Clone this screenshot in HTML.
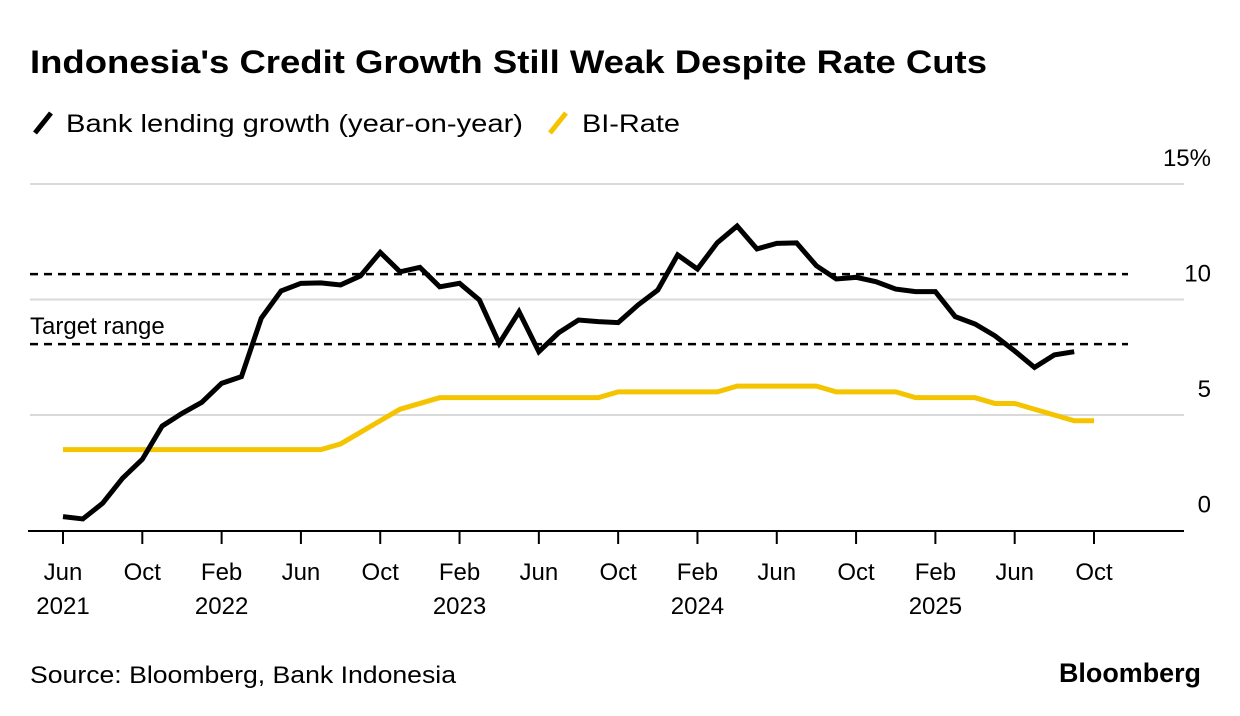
<!DOCTYPE html>
<html><head><meta charset="utf-8"><style>
html,body{margin:0;padding:0;background:#fff}
svg{display:block;font-family:"Liberation Sans",sans-serif}
</style></head><body>
<svg id="c" width="1240" height="716" viewBox="0 0 1240 716">
<text x="30" y="73" font-size="32" font-weight="bold" textLength="957" lengthAdjust="spacingAndGlyphs">Indonesia's Credit Growth Still Weak Despite Rate Cuts</text>
<g>
<line x1="35" y1="133" x2="51" y2="113" stroke="#000" stroke-width="5"/>
<text x="66" y="132" font-size="25" textLength="457" lengthAdjust="spacingAndGlyphs">Bank lending growth (year-on-year)</text>
<line x1="550" y1="133" x2="566" y2="113" stroke="#f5c400" stroke-width="5"/>
<text x="582" y="132" font-size="25" textLength="98" lengthAdjust="spacingAndGlyphs">BI-Rate</text>
</g>
<g id="grid"></g><g id="ylab"></g><g id="xax"></g><g id="series"></g>
<text x="30" y="334" font-size="24">Target range</text>
<text x="30" y="683" font-size="24" textLength="426" lengthAdjust="spacingAndGlyphs">Source: Bloomberg, Bank Indonesia</text>
<text x="1201" y="682" font-size="27" font-weight="bold" text-anchor="end" textLength="142" lengthAdjust="spacingAndGlyphs">Bloomberg</text>
</svg>
<script>
const lending = [0.6,0.5,1.18,2.26,3.08,4.52,5.07,5.55,6.37,6.66,9.19,10.37,10.7,10.72,10.63,11.02,12.04,11.2,11.39,10.55,10.7,9.98,8.1,9.47,7.74,8.56,9.11,9.04,9.0,9.76,10.41,11.93,11.32,12.46,13.18,12.19,12.43,12.45,11.46,10.89,10.96,10.77,10.45,10.34,10.34,9.26,8.94,8.43,7.77,7.06,7.6,7.74];
const biRate = [3.5,3.5,3.5,3.5,3.5,3.5,3.5,3.5,3.5,3.5,3.5,3.5,3.5,3.5,3.75,4.25,4.75,5.25,5.5,5.75,5.75,5.75,5.75,5.75,5.75,5.75,5.75,5.75,6,6,6,6,6,6,6.25,6.25,6.25,6.25,6.25,6,6,6,6,5.75,5.75,5.75,5.75,5.5,5.5,5.25,5,4.75,4.75];
const yTicks = [0,5,10,15];
const yTickLabels = ["0","5","10","15%"];
const targetRange = [8.07,11.1];
const xTickMonths = [0,4,8,12,16,20,24,28,32,36,40,44,48,52];
const xMonthLabels = ["Jun","Oct","Feb","Jun","Oct","Feb","Jun","Oct","Feb","Jun","Oct","Feb","Jun","Oct"];
const xYearLabels = ["2021","","2022","","","2023","","","2024","","","2025","",""];
const NS="http://www.w3.org/2000/svg";
const X=m=>63+m*(1094-63)/52;
const Y=v=>530.5-v*23.1;
function mk(tag,attrs,parent){const e=document.createElementNS(NS,tag);for(const k in attrs)e.setAttribute(k,attrs[k]);parent.appendChild(e);return e;}
const grid=document.getElementById('grid'),ylab=document.getElementById('ylab'),xax=document.getElementById('xax'),ser=document.getElementById('series');
yTicks.forEach((v,i)=>{
  if(v>0){const g=mk('line',{x1:30,x2:1184,y1:Y(v),y2:Y(v),stroke:'#d9d9d9','stroke-width':2},grid);
  
  }
  const t=mk('text',{x:1211,y:Y(v)-18,'font-size':24,'text-anchor':'end'},ylab);t.textContent=yTickLabels[i];
  
  
});
targetRange.forEach((v,i)=>{
  const d=mk('line',{x1:30,x2:1128,y1:Y(v),y2:Y(v),stroke:'#000','stroke-width':2.5,'stroke-dasharray':'8 6'},grid);
  
  
});
const ax=mk('line',{x1:28,x2:1184,y1:531,y2:531,stroke:'#000','stroke-width':2},xax);


xTickMonths.forEach((m,i)=>{
  const t=mk('line',{x1:X(m),x2:X(m),y1:531,y2:544,stroke:'#000','stroke-width':2},xax);
  
  
  const l=mk('text',{x:X(m),y:580,'font-size':24,'text-anchor':'middle'},xax);l.textContent=xMonthLabels[i];
  
  
  if(xYearLabels[i]){const yl=mk('text',{x:X(m),y:614,'font-size':24,'text-anchor':'middle'},xax);yl.textContent=xYearLabels[i];
  
  }
});
function line(arr,color,name){
  const p=mk('polyline',{points:arr.map((v,i)=>X(i)+','+Y(v)).join(' '),fill:'none',stroke:color,'stroke-width':5,'stroke-linejoin':'miter'},ser);
  
  
}
line(biRate,'#f5c400','bi-rate-line');
line(lending,'#000','lending-growth-line');
</script>
</body></html>
